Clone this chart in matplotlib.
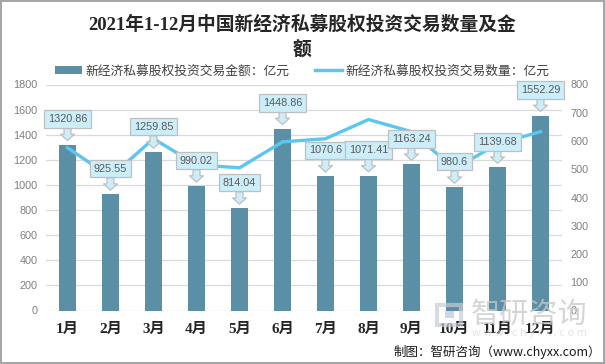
import matplotlib
matplotlib.use('Agg')
import matplotlib.pyplot as plt
import numpy as np
from matplotlib.patches import Patch, Rectangle
from matplotlib.lines import Line2D

# data
months = ['1月', '2月', '3月', '4月', '5月', '6月', '7月', '8月', '9月', '10月', '11月', '12月']
amount = [1320.86, 925.55, 1259.85, 990.02, 814.04, 1448.86, 1070.6, 1071.41, 1163.24, 980.6, 1139.68, 1552.29]
count = [576, 473, 608, 516, 505, 597, 608, 676, 633, 501, 590, 633]
amount_labels = ['1320.86', '925.55', '1259.85', '990.02', '814.04', '1448.86',
                 '1070.6', '1071.41', '1163.24', '980.6', '1139.68', '1552.29']

bar_color = '#5B8FA6'
line_color = '#5BC6F2'
box_fc = '#CCEEFB'
box_ec = '#BFBFBF'

W, H = 605, 364
fig = plt.figure(figsize=(W / 100, H / 100), dpi=100)
fig.patch.set_edgecolor('#A6A6A6')
fig.patch.set_linewidth(1.5)

ax = fig.add_axes([46 / W, 1 - 310.5 / H, (562 - 46) / W, (310.5 - 84.5) / H])
ax2 = ax.twinx()

x = np.arange(len(months))
ax.bar(x, amount, width=0.4, color=bar_color, zorder=2)
ax.set_ylim(0, 1800)
ax.set_yticks(np.arange(0, 1801, 200))
ax.set_xlim(-0.5, len(months) - 0.5)
ax.grid(axis='y', color='#D9D9D9', linewidth=0.9, zorder=0)
ax.set_axisbelow(True)

ax2.plot(x, count, color=line_color, linewidth=2.4, zorder=3)
ax2.set_ylim(0, 800)
ax2.set_yticks(np.arange(0, 801, 100))

for a in (ax, ax2):
    for s in a.spines.values():
        s.set_visible(False)
    a.tick_params(length=0, labelsize=7.8, labelcolor='#808080', pad=6)
    for lab in a.get_yticklabels():
        lab.set_family('Liberation Sans')

ax.set_xticks(x)
ax.set_xticklabels(months, family=['Liberation Serif', 'Noto Sans CJK SC'],
                   fontweight='bold', fontsize=11, color='#262626')
ax.tick_params(axis='x', pad=9)

# data labels with callout arrows
for i, v in enumerate(amount):
    ax2.annotate(amount_labels[i], xy=(i, v), xycoords=ax.transData,
                 xytext=(0, 18.5), textcoords='offset points',
                 ha='center', va='center', fontsize=7.8, family='Liberation Sans',
                 color='#595959', zorder=5,
                 bbox=dict(boxstyle='square,pad=0.35', fc=box_fc, ec=box_ec, lw=0.9),
                 arrowprops=dict(arrowstyle='simple,head_length=0.45,head_width=1.0,tail_width=0.5',
                                 fc=box_fc, ec=box_ec, lw=0.9, mutation_scale=10,
                                 shrinkA=0, shrinkB=3))

# title
cjk = ['Noto Sans CJK SC']
fig.text(0.5, 1 - 25 / H, '2021年1-12月中国新经济私募股权投资交易数量及金',
         ha='center', va='center', fontsize=13.5, fontweight='bold',
         family=['Liberation Serif', 'Noto Sans CJK SC'], color='#262626')
fig.text(0.5, 1 - 50 / H, '额', ha='center', va='center', fontsize=13.5,
         fontweight='bold', family=cjk, color='#262626')

# legend
handles = [Patch(facecolor=bar_color, edgecolor='none'),
           Line2D([0], [0], color=line_color, linewidth=2.5)]
labels = ['新经济私募股权投资交易金额：亿元', '新经济私募股权投资交易数量：亿元']
leg = fig.legend(handles, labels, loc='center', bbox_to_anchor=(0.5, 1 - 71 / H),
                 ncol=2, frameon=False, prop={'family': cjk, 'size': 9.2},
                 handlelength=2.1, handleheight=0.55, handletextpad=0.3, columnspacing=2.0)
for t in leg.get_texts():
    t.set_color('#404040')

# watermark
wm = '#C8CDD2'
fig.patches.append(Rectangle((437 / W, 1 - 325 / H), 24 / W, 20 / H, transform=fig.transFigure,
                             fill=False, ec=wm, lw=3, alpha=0.7, zorder=10))
fig.patches.append(Rectangle((445 / W, 1 - 318 / H), 9 / W, 7 / H, transform=fig.transFigure,
                             fc='#B8C8D8', ec='none', alpha=0.7, zorder=10))
fig.text(1 - 18 / W, 1 - 315 / H, '智研咨询', ha='right', va='center', fontsize=21,
         family=cjk, color='#C8C8C8', alpha=0.75, zorder=10)
fig.text(1 - 18 / W, 1 - 333 / H, 'w w w . c h y x x . c o m', ha='right', va='center',
         fontsize=8, family=cjk, color='#D8D8D8', alpha=0.7, zorder=10)

# source
fig.text(1 - 4 / W, 1 - 352 / H, '制图：智研咨询（www.chyxx.com）', ha='right', va='center',
         fontsize=9, family=cjk, color='#1A1A1A')

fig.savefig('out.png', dpi=100, edgecolor=fig.get_edgecolor())
